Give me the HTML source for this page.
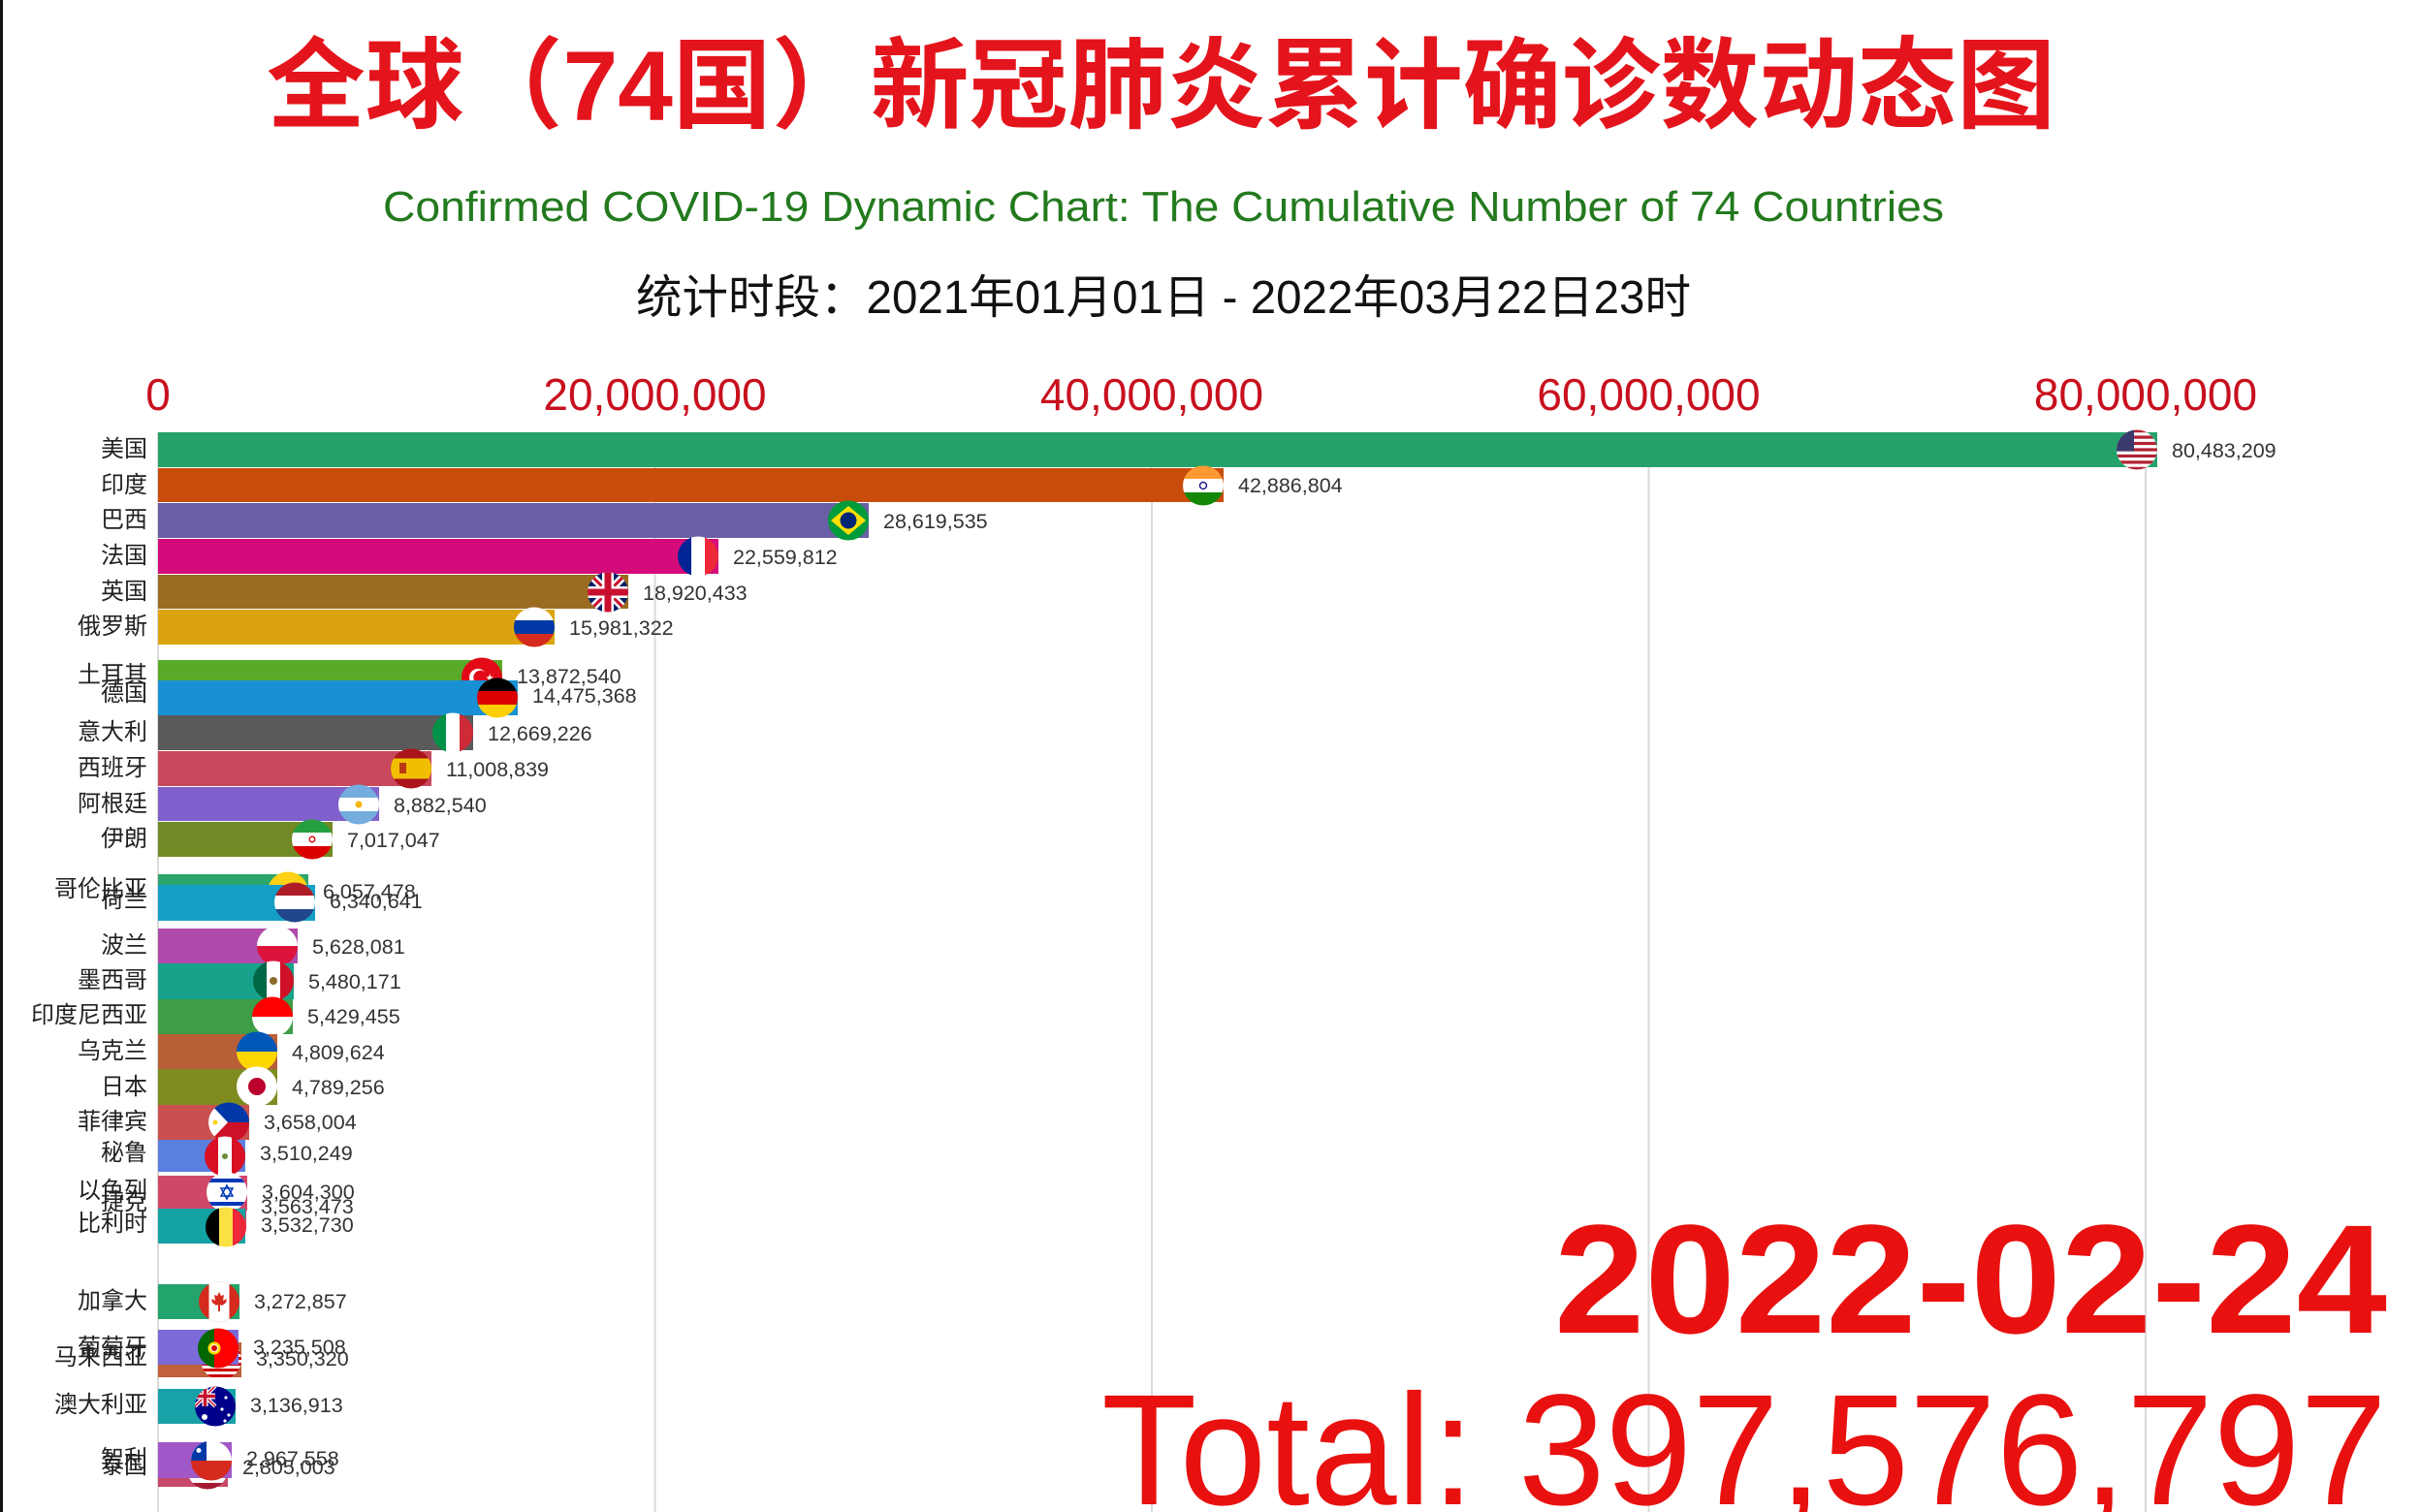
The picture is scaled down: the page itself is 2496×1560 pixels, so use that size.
<!DOCTYPE html>
<html>
<head>
<meta charset="utf-8">
<style>
html,body{margin:0;padding:0;background:#fff;}
body{width:2496px;height:1560px;overflow:hidden;}
svg{display:block;}
.l{font-family:"Liberation Sans","Noto Sans CJK SC",sans-serif;font-size:24px;fill:#222;text-anchor:end;}
.v{font-family:"Liberation Sans","Noto Sans CJK SC",sans-serif;font-size:21.5px;fill:#333;}
.t{font-family:"Liberation Sans","Noto Sans CJK SC",sans-serif;font-size:46px;fill:#c8101e;text-anchor:middle;}
</style>
</head>
<body>
<svg width="2496" height="1560" viewBox="0 0 2496 1560" xmlns="http://www.w3.org/2000/svg">
<defs>
<clipPath id="fc"><ellipse cx="21" cy="21" rx="21" ry="20.5"/></clipPath>
</defs>
<rect width="2496" height="1560" fill="#fff"/>
<rect x="0" y="0" width="3" height="1560" fill="#111"/>

<!-- Titles -->
<text x="275" y="124" font-family="'Liberation Sans','Noto Sans CJK SC',sans-serif" font-weight="bold" font-size="102" fill="#e4141c" textLength="1845" lengthAdjust="spacingAndGlyphs">全球（74国）新冠肺炎累计确诊数动态图</text>
<text x="395" y="228" font-family="'Liberation Sans','Noto Sans CJK SC',sans-serif" font-size="44" fill="#237a1e" textLength="1610" lengthAdjust="spacingAndGlyphs">Confirmed COVID-19 Dynamic Chart: The Cumulative Number of 74 Countries</text>
<text x="656" y="323" font-family="'Liberation Sans','Noto Sans CJK SC',sans-serif" font-size="48" fill="#111" textLength="1088" lengthAdjust="spacingAndGlyphs">统计时段：2021年01月01日 - 2022年03月22日23时</text>

<!-- Axis ticks -->
<text class="t" x="163" y="423">0</text>
<text class="t" x="675.5" y="423">20,000,000</text>
<text class="t" x="1188" y="423">40,000,000</text>
<text class="t" x="1700.5" y="423">60,000,000</text>
<text class="t" x="2213" y="423">80,000,000</text>

<!-- Gridlines -->
<g stroke="#dadada" stroke-width="2">
<line x1="163" y1="446" x2="163" y2="1560"/>
<line x1="675.5" y1="446" x2="675.5" y2="1560"/>
<line x1="1188" y1="446" x2="1188" y2="1560"/>
<line x1="1700.5" y1="446" x2="1700.5" y2="1560"/>
<line x1="2213" y1="446" x2="2213" y2="1560"/>
</g>

<!-- Big date / total -->
<text x="1603" y="1375" font-family="'Liberation Sans',sans-serif" font-weight="bold" font-size="160" fill="#e8110f" textLength="859" lengthAdjust="spacingAndGlyphs">2022-02-24</text>
<text x="1136" y="1552" font-family="'Liberation Sans',sans-serif" font-size="163" fill="#e8110f" textLength="1326" lengthAdjust="spacingAndGlyphs">Total: 397,576,797</text>

<!-- Rows -->
<!-- 1 US -->
<rect x="163" y="446" width="2062" height="36" fill="#25a26a"/>
<g transform="translate(2183,443)" clip-path="url(#fc)">
<rect width="42" height="42" fill="#fff"/>
<g fill="#b22234"><rect y="0" width="42" height="3.23"/><rect y="6.46" width="42" height="3.23"/><rect y="12.92" width="42" height="3.23"/><rect y="19.38" width="42" height="3.23"/><rect y="25.85" width="42" height="3.23"/><rect y="32.31" width="42" height="3.23"/><rect y="38.77" width="42" height="3.23"/></g>
<rect width="18" height="22.6" fill="#3c3b6e"/>
</g>
<text class="v" x="2240" y="472">80,483,209</text>

<!-- 2 India -->
<rect x="163" y="483" width="1099" height="35" fill="#c84c0c"/>
<g transform="translate(1220,480)" clip-path="url(#fc)">
<rect width="42" height="14" fill="#ff9933"/><rect y="14" width="42" height="14" fill="#fff"/><rect y="28" width="42" height="14" fill="#138808"/>
<circle cx="21" cy="21" r="3.5" fill="none" stroke="#000080" stroke-width="1.3"/>
</g>
<text class="v" x="1277" y="508">42,886,804</text>

<!-- 3 Brazil -->
<rect x="163" y="519" width="733" height="36" fill="#6a5fa5"/>
<g transform="translate(854,516)" clip-path="url(#fc)">
<rect width="42" height="42" fill="#009c3b"/>
<polygon points="3,21 21,6 39,21 21,36" fill="#ffdf00"/>
<circle cx="21" cy="21" r="8.5" fill="#002776"/>
</g>
<text class="v" x="911" y="545">28,619,535</text>

<!-- 4 France -->
<rect x="163" y="556" width="578" height="36" fill="#d40b7a"/>
<g transform="translate(699,553)" clip-path="url(#fc)">
<rect width="14" height="42" fill="#002395"/><rect x="14" width="14" height="42" fill="#fff"/><rect x="28" width="14" height="42" fill="#ed2939"/>
</g>
<text class="v" x="756" y="582">22,559,812</text>

<!-- 5 UK -->
<rect x="163" y="593" width="485" height="35" fill="#9a6b21"/>
<g transform="translate(606,590)" clip-path="url(#fc)">
<rect width="42" height="42" fill="#012169"/>
<path d="M0,0L42,42M42,0L0,42" stroke="#fff" stroke-width="8"/>
<path d="M0,0L42,42M42,0L0,42" stroke="#c8102e" stroke-width="3"/>
<path d="M21,0V42M0,21H42" stroke="#fff" stroke-width="12"/>
<path d="M21,0V42M0,21H42" stroke="#c8102e" stroke-width="7"/>
</g>
<text class="v" x="663" y="619">18,920,433</text>

<!-- 6 Russia -->
<rect x="163" y="629" width="409" height="36" fill="#dba40e"/>
<g transform="translate(530,626)" clip-path="url(#fc)">
<rect width="42" height="14" fill="#fff"/><rect y="14" width="42" height="14" fill="#0039a6"/><rect y="28" width="42" height="14" fill="#d52b1e"/>
</g>
<text class="v" x="587" y="655">15,981,322</text>

<!-- 7 Turkey -->
<rect x="163" y="681" width="355" height="36" fill="#5aaa2a"/>
<g transform="translate(476,678)" clip-path="url(#fc)">
<rect width="42" height="42" fill="#e30a17"/>
<circle cx="17" cy="21" r="9" fill="#fff"/><circle cx="19.5" cy="21" r="7.2" fill="#e30a17"/>
<polygon points="25,21 28.2,20 29.2,17 30,20 33,20.5 30.3,22 31.3,25 29,23 26.8,25 27.8,22" fill="#fff"/>
</g>
<text class="v" x="533" y="705">13,872,540</text>

<!-- 8 Germany -->
<rect x="163" y="702" width="371" height="36" fill="#1a90d4"/>
<g transform="translate(492,699)" clip-path="url(#fc)">
<rect width="42" height="14" fill="#000"/><rect y="14" width="42" height="14" fill="#dd0000"/><rect y="28" width="42" height="14" fill="#ffce00"/>
</g>
<text class="v" x="549" y="725">14,475,368</text>

<!-- 9 Italy -->
<rect x="163" y="738" width="325" height="36" fill="#5a5a5a"/>
<g transform="translate(446,735)" clip-path="url(#fc)">
<rect width="14" height="42" fill="#009246"/><rect x="14" width="14" height="42" fill="#fff"/><rect x="28" width="14" height="42" fill="#ce2b37"/>
</g>
<text class="v" x="503" y="764">12,669,226</text>

<!-- 10 Spain -->
<rect x="163" y="775" width="282" height="36" fill="#c8485c"/>
<g transform="translate(403,772)" clip-path="url(#fc)">
<rect width="42" height="42" fill="#aa151b"/><rect y="10.5" width="42" height="21" fill="#f1bf00"/>
<rect x="9" y="15" width="7" height="11" fill="#ad1519" opacity="0.8"/>
</g>
<text class="v" x="460" y="801">11,008,839</text>

<!-- 11 Argentina -->
<rect x="163" y="812" width="228" height="35" fill="#8060cc"/>
<g transform="translate(349,809)" clip-path="url(#fc)">
<rect width="42" height="42" fill="#74acdf"/><rect y="14" width="42" height="14" fill="#fff"/>
<circle cx="21" cy="21" r="3.5" fill="#f6b40e"/>
</g>
<text class="v" x="406" y="838">8,882,540</text>

<!-- 12 Iran -->
<rect x="163" y="848" width="180" height="36" fill="#718a25"/>
<g transform="translate(301,845)" clip-path="url(#fc)">
<rect width="42" height="14" fill="#239f40"/><rect y="14" width="42" height="14" fill="#fff"/><rect y="28" width="42" height="14" fill="#da0000"/>
<circle cx="21" cy="21" r="2.8" fill="none" stroke="#da0000" stroke-width="1.3"/>
</g>
<text class="v" x="358" y="874">7,017,047</text>

<!-- 13 Colombia -->
<rect x="163" y="902" width="155" height="36" fill="#2aa56b"/>
<g transform="translate(276,899)" clip-path="url(#fc)">
<rect width="42" height="21" fill="#fcd116"/><rect y="21" width="42" height="10.5" fill="#003893"/><rect y="31.5" width="42" height="10.5" fill="#ce1126"/>
</g>
<text class="v" x="333" y="927">6,057,478</text>

<!-- 14 Netherlands -->
<rect x="163" y="913" width="162" height="37" fill="#159fc5"/>
<g transform="translate(283,910)" clip-path="url(#fc)">
<rect width="42" height="14" fill="#ae1c28"/><rect y="14" width="42" height="14" fill="#fff"/><rect y="28" width="42" height="14" fill="#21468b"/>
</g>
<text class="v" x="340" y="937">6,340,641</text>

<!-- 15 Poland -->
<rect x="163" y="958" width="144" height="36" fill="#b04aaa"/>
<g transform="translate(265,955)" clip-path="url(#fc)">
<rect width="42" height="21" fill="#fff"/><rect y="21" width="42" height="21" fill="#dc143c"/>
</g>
<text class="v" x="322" y="984">5,628,081</text>

<!-- 16 Mexico -->
<rect x="163" y="994" width="140" height="37" fill="#17a38b"/>
<g transform="translate(261,991)" clip-path="url(#fc)">
<rect width="14" height="42" fill="#006847"/><rect x="14" width="14" height="42" fill="#fff"/><rect x="28" width="14" height="42" fill="#ce1126"/>
<circle cx="21" cy="21" r="4" fill="#8c6a2a"/>
</g>
<text class="v" x="318" y="1020">5,480,171</text>

<!-- 17 Indonesia -->
<rect x="163" y="1031" width="139" height="36" fill="#3e9e48"/>
<g transform="translate(260,1028)" clip-path="url(#fc)">
<rect width="42" height="21" fill="#ff0000"/><rect y="21" width="42" height="21" fill="#fff"/>
</g>
<text class="v" x="317" y="1056">5,429,455</text>

<!-- 18 Ukraine -->
<rect x="163" y="1067" width="123" height="36" fill="#b85f38"/>
<g transform="translate(244,1064)" clip-path="url(#fc)">
<rect width="42" height="21" fill="#0057b7"/><rect y="21" width="42" height="21" fill="#ffd700"/>
</g>
<text class="v" x="301" y="1093">4,809,624</text>

<!-- 19 Japan -->
<rect x="163" y="1103" width="123" height="37" fill="#7f8b1f"/>
<g transform="translate(244,1100)" clip-path="url(#fc)">
<rect width="42" height="42" fill="#fff"/><circle cx="21" cy="21" r="9" fill="#bc002d"/>
</g>
<text class="v" x="301" y="1129">4,789,256</text>

<!-- 20 Philippines -->
<rect x="163" y="1140" width="94" height="36" fill="#c9504f"/>
<g transform="translate(215,1137)" clip-path="url(#fc)">
<rect width="42" height="21" fill="#0038a8"/><rect y="21" width="42" height="21" fill="#ce1126"/>
<polygon points="0,0 20,21 0,42" fill="#fff"/><circle cx="7" cy="21" r="2.5" fill="#fcd116"/>
</g>
<text class="v" x="272" y="1165">3,658,004</text>

<!-- 21 Peru -->
<rect x="163" y="1176" width="90" height="33" fill="#5b7fe0"/>
<g transform="translate(211,1172)" clip-path="url(#fc)">
<rect width="42" height="42" fill="#d91023"/><rect x="14" width="14" height="42" fill="#fff"/>
<circle cx="21" cy="21" r="3" fill="#6a8a3a"/>
</g>
<text class="v" x="268" y="1197">3,510,249</text>

<!-- 23 Czech (hidden bar) -->
<rect x="163" y="1229" width="91" height="36" fill="#c04a70"/>

<!-- 22 Israel -->
<rect x="163" y="1213" width="92" height="36" fill="#d04868"/>
<g transform="translate(213,1209)" clip-path="url(#fc)">
<rect width="42" height="42" fill="#fff"/>
<rect y="7" width="42" height="4" fill="#0038b8"/><rect y="31" width="42" height="4" fill="#0038b8"/>
<polygon points="21,14 27,25 15,25" fill="none" stroke="#0038b8" stroke-width="1.5"/>
<polygon points="21,28 27,17 15,17" fill="none" stroke="#0038b8" stroke-width="1.5"/>
</g>
<text class="v" x="270" y="1237">3,604,300</text>

<!-- 24 Belgium -->
<rect x="163" y="1247" width="90" height="36" fill="#14a3a3"/>
<g transform="translate(212,1245)" clip-path="url(#fc)">
<rect width="14" height="42" fill="#000"/><rect x="14" width="14" height="42" fill="#fae042"/><rect x="28" width="14" height="42" fill="#ed2939"/>
</g>
<text class="v" x="269" y="1252">3,563,473</text>
<text class="v" x="269" y="1271">3,532,730</text>

<!-- 25 Canada -->
<rect x="163" y="1325" width="84" height="36" fill="#22a46c"/>
<g transform="translate(205,1322)" clip-path="url(#fc)">
<rect width="42" height="42" fill="#d52b1e"/><rect x="10.5" width="21" height="42" fill="#fff"/>
<polygon points="21,11 23,15 26,14 25,20 29,18 28,22 24,25 22,24 22,31 20,31 20,24 18,25 14,22 13,18 17,20 16,14 19,15" fill="#d52b1e"/>
</g>
<text class="v" x="262" y="1350">3,272,857</text>

<!-- 27 Malaysia (under Portugal) -->
<rect x="163" y="1385" width="86" height="36" fill="#c0603c"/>
<g transform="translate(207,1382)" clip-path="url(#fc)">
<rect width="42" height="42" fill="#fff"/>
<g fill="#cc0001"><rect y="0" width="42" height="3"/><rect y="6" width="42" height="3"/><rect y="12" width="42" height="3"/><rect y="18" width="42" height="3"/><rect y="24" width="42" height="3"/><rect y="30" width="42" height="3"/><rect y="36" width="42" height="3"/></g>
<rect width="21" height="24" fill="#010066"/><circle cx="8" cy="12" r="4" fill="#fc0"/>
</g>
<text class="v" x="264" y="1409">3,350,320</text>

<!-- 26 Portugal -->
<rect x="163" y="1372" width="83" height="36" fill="#7b6ad8"/>
<g transform="translate(204,1370)" clip-path="url(#fc)">
<rect width="17" height="42" fill="#006600"/><rect x="17" width="25" height="42" fill="#ff0000"/>
<circle cx="17" cy="21" r="6.5" fill="#ffe000"/><circle cx="17" cy="21" r="3.5" fill="#d00" stroke="#fff" stroke-width="1"/>
</g>
<text class="v" x="261" y="1397">3,235,508</text>

<!-- 28 Australia -->
<rect x="163" y="1433" width="80" height="36" fill="#18a2a8"/>
<g transform="translate(201,1430)" clip-path="url(#fc)">
<rect width="42" height="42" fill="#00008b"/>
<path d="M0,0L21,21M21,0L0,21" stroke="#fff" stroke-width="4"/>
<path d="M0,0L21,21M21,0L0,21" stroke="#c8102e" stroke-width="1.5"/>
<path d="M10.5,0V21M0,10.5H21" stroke="#fff" stroke-width="6"/>
<path d="M10.5,0V21M0,10.5H21" stroke="#c8102e" stroke-width="3.5"/>
<circle cx="10" cy="32" r="3" fill="#fff"/><circle cx="32" cy="12" r="1.6" fill="#fff"/><circle cx="28" cy="24" r="1.6" fill="#fff"/><circle cx="35" cy="30" r="1.6" fill="#fff"/><circle cx="31" cy="36" r="1.6" fill="#fff"/>
</g>
<text class="v" x="258" y="1457">3,136,913</text>

<!-- 30 Thailand (under Chile) -->
<rect x="163" y="1498" width="72" height="36" fill="#c8486a"/>
<g transform="translate(193,1495)" clip-path="url(#fc)">
<rect width="42" height="42" fill="#a51931"/><rect y="7" width="42" height="28" fill="#fff"/><rect y="14" width="42" height="14" fill="#2d2a4a"/>
</g>
<text class="v" x="250" y="1521">2,805,003</text>

<!-- 29 Chile -->
<rect x="163" y="1488" width="76" height="37" fill="#a058c8"/>
<g transform="translate(197,1486)" clip-path="url(#fc)">
<rect width="42" height="21" fill="#fff"/><rect y="21" width="42" height="21" fill="#d52b1e"/>
<rect width="16" height="21" fill="#0039a6"/><circle cx="8" cy="10.5" r="2.5" fill="#fff"/>
</g>
<text class="v" x="254" y="1512">2,967,558</text>

<!-- Labels -->
<text class="l" x="152" y="471">美国</text>
<text class="l" x="152" y="508">印度</text>
<text class="l" x="152" y="544">巴西</text>
<text class="l" x="152" y="581">法国</text>
<text class="l" x="152" y="618">英国</text>
<text class="l" x="152" y="654">俄罗斯</text>
<text class="l" x="152" y="704">土耳其</text>
<text class="l" x="152" y="723">德国</text>
<text class="l" x="152" y="763">意大利</text>
<text class="l" x="152" y="800">西班牙</text>
<text class="l" x="152" y="837">阿根廷</text>
<text class="l" x="152" y="873">伊朗</text>
<text class="l" x="152" y="925">哥伦比亚</text>
<text class="l" x="152" y="936">荷兰</text>
<text class="l" x="152" y="983">波兰</text>
<text class="l" x="152" y="1019">墨西哥</text>
<text class="l" x="152" y="1055">印度尼西亚</text>
<text class="l" x="152" y="1092">乌克兰</text>
<text class="l" x="152" y="1129">日本</text>
<text class="l" x="152" y="1165">菲律宾</text>
<text class="l" x="152" y="1197">秘鲁</text>
<text class="l" x="152" y="1236">以色列</text>
<text class="l" x="152" y="1248">捷克</text>
<text class="l" x="152" y="1270">比利时</text>
<text class="l" x="152" y="1350">加拿大</text>
<text class="l" x="152" y="1398">葡萄牙</text>
<text class="l" x="152" y="1408">马来西亚</text>
<text class="l" x="152" y="1457">澳大利亚</text>
<text class="l" x="152" y="1513">智利</text>
<text class="l" x="152" y="1520">泰国</text>
</svg>
</body>
</html>
